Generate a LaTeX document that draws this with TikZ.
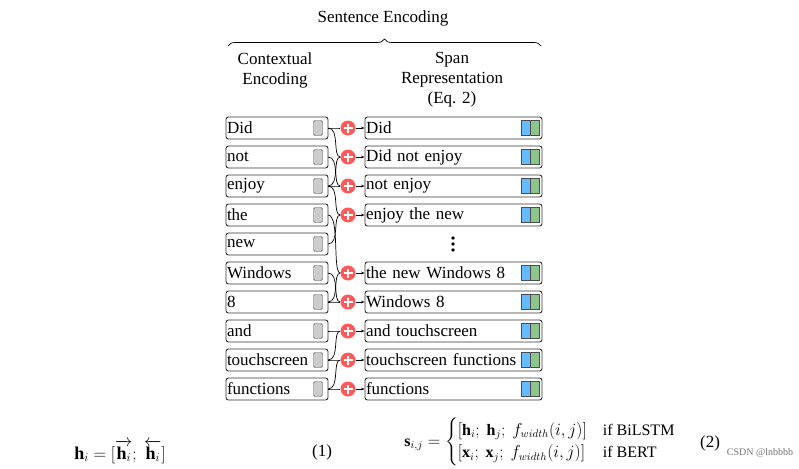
\documentclass[tikz,border=0pt]{standalone}
\usepackage{amsmath,amssymb}
\usepackage{fontspec}
\setmainfont{Liberation Serif}
\usetikzlibrary{decorations.pathreplacing,arrows.meta}
\begin{document}
\begin{tikzpicture}[x=1pt,y=-1pt,
  font=\fontsize{17}{20}\selectfont,
  lbox/.style={draw=black!80,line width=0.9pt,rounded corners=2.5,minimum width=102,minimum height=22,inner sep=0pt,text width=100,align=left},
  rbox/.style={draw=black!80,line width=0.9pt,rounded corners=2.5,minimum width=177,minimum height=22,inner sep=0pt,text width=175,align=left},
  grey/.style={draw=black!70,fill=black!20,rounded corners=1.5,minimum width=9,minimum height=15,inner sep=0pt},
  plus/.style={circle,fill=red!65!white,minimum size=15,inner sep=0pt},
  con/.style={line width=0.7pt},
  arr/.style={-{Stealth[length=3.5pt]},line width=0.7pt}]
\useasboundingbox (0,0) rectangle (799,468);
\node at (383,18) {Sentence Encoding};
\draw[line width=0.7pt,decorate,decoration={brace,amplitude=7pt}] (228,46) -- (541,46);
\node[align=center] at (275,70) {Contextual\\Encoding};
\node[align=center] at (452,80) {Span\\Representation\\(Eq. 2)};
\foreach \w [count=\i] in {Did,not,enjoy,the,new,Windows,8,and,touchscreen,functions}{
  \pgfmathsetmacro\yy{128+29*(\i-1)}
  \node[lbox] (l\i) at (277,\yy) {\w};
  \node[grey] (g\i) at (318,\yy) {};
  \coordinate (o\i) at (328,\yy);
}
\foreach \w/\r [count=\k] in {Did/1,Did not enjoy/2,not enjoy/3,enjoy the new/4,the new Windows 8/6,Windows 8/7,and touchscreen/8,touchscreen functions/9,functions/10}{
  \pgfmathsetmacro\yy{128+29*(\r-1)}
  \node[rbox] (r\k) at (453.5,\yy) {\w};
  \node[draw=black!70,fill=blue!45!cyan!60,minimum width=9,minimum height=15,inner sep=0pt,anchor=east] (b\k) at (530,\yy) {};
  \node[draw=black!70,fill=green!50!black!45!white,minimum width=9,minimum height=15,inner sep=0pt,anchor=west] (c\k) at (b\k.east) {};
  \node[plus] (p\k) at (348,\yy) {};
  \draw[white,line width=2.2pt] (p\k.center) ++(-4.5,0) -- ++(9,0) (p\k.center) ++(0,-4.5) -- ++(0,9);
  \draw[arr] (p\k) -- (r\k);
}
\foreach \d in {-6,0,6} \fill (453,244+\d) circle (1.8);
\foreach \a/\b in {1/1,1/2,3/2,2/3,3/3,3/4,5/4,4/5,7/5,6/6,7/6,8/7,9/7,9/8,10/8,10/9}{
  \draw[con] (o\a) .. controls +(12,0) and +(-8,0) .. (p\b.west);
}
\node[font=\fontsize{18}{22}\selectfont] at (120,452) {$\mathbf{h}_i=[\overrightarrow{\mathbf{h}_i};\ \overleftarrow{\mathbf{h}_i}]$};
\node at (322,452) {(1)};
\node[font=\fontsize{16}{19}\selectfont] at (540,442) {$\mathbf{s}_{i,j}=\begin{cases}[\mathbf{h}_i;\ \mathbf{h}_j;\ f_{width}(i,j)] & \text{if BiLSTM}\\ [\mathbf{x}_i;\ \mathbf{x}_j;\ f_{width}(i,j)] & \text{if BERT}\end{cases}$};
\node at (710,443) {(2)};
\node[text=black!55,font=\fontsize{10}{10}\selectfont] at (760,453) {CSDN @lnbbbb};
\end{tikzpicture}
\end{document}
